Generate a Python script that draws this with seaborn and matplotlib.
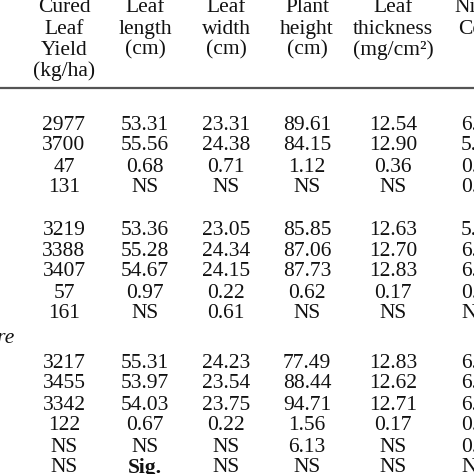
import matplotlib.pyplot as plt
import seaborn as sns

# Table values (per column, row order as in the picture)
headers = [
    ['Cured', 'Leaf', 'Yield', '(kg/ha)'],
    ['Leaf', 'length', '(cm)'],
    ['Leaf', 'width', '(cm)'],
    ['Plant', 'height', '(cm)'],
    ['Leaf', 'thickness', '(mg/cm²)'],
    ['Nicotine', 'Content', '(%)'],
]
yield_vals = ['2977', '3700', '47', '131', '3219', '3388', '3407', '57', '161',
              '3217', '3455', '3342', '122', 'NS', 'NS']
length_vals = ['53.31', '55.56', '0.68', 'NS', '53.36', '55.28', '54.67', '0.97', 'NS',
               '55.31', '53.97', '54.03', '0.67', 'NS', 'Sig.']
width_vals = ['23.31', '24.38', '0.71', 'NS', '23.05', '24.34', '24.15', '0.22', '0.61',
              '24.23', '23.54', '23.75', '0.22', 'NS', 'NS']
height_vals = ['89.61', '84.15', '1.12', 'NS', '85.85', '87.06', '87.73', '0.62', 'NS',
               '77.49', '88.44', '94.71', '1.56', '6.13', 'NS']
thick_vals = ['12.54', '12.90', '0.36', 'NS', '12.63', '12.70', '12.83', '0.17', 'NS',
              '12.83', '12.62', '12.71', '0.17', 'NS', 'NS']
nic_vals = ['6.10', '5.72', '0.21', '0.38', '5.84', '6.02', '6.11', '0.12', 'NS',
            '6.05', '6.21', '6.14', '0.15', '0.44', 'NS']
group_label = 'Temperature'

sns.set_theme(style='white')
plt.rcParams['font.family'] = ['Liberation Serif', 'DejaVu Serif']

fig = plt.figure(figsize=(4.74, 4.74), dpi=100)
ax = fig.add_axes([0, 0, 1, 1])
ax.set_xlim(0, 474)
ax.set_ylim(474, 0)
ax.axis('off')

col_x = [64, 145, 226, 307, 393, 492]
head_y = [7, 29, 50, 71]
row_y = [125, 146, 167, 188, 230, 251, 272, 293, 314,
         363, 384, 405, 426, 447, 468]
fs = 15.5

for x, lines in zip(col_x, headers):
    for y, t in zip(head_y, lines):
        ax.text(x, y, t, ha='center', va='center', fontsize=fs, color='#111')

ax.plot([0, 474], [88, 88], color='#555', lw=1.6)

cols = [yield_vals, length_vals, width_vals, height_vals, thick_vals]
for x, vals in zip(col_x, cols):
    for y, v in zip(row_y, vals):
        ax.text(x, y, v, ha='center', va='center', fontsize=fs, color='#111',
                fontweight='bold' if v == 'Sig.' else 'normal')
for y, v in zip(row_y, nic_vals):
    ax.text(461, y, v, ha='left', va='center', fontsize=fs, color='#111')

ax.text(15, 339, group_label, ha='right', va='center', fontsize=fs,
        style='italic', color='#111')

fig.savefig('out.png', dpi=100)
